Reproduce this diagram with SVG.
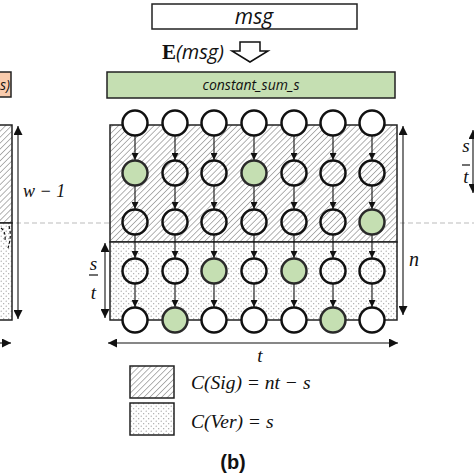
<svg xmlns="http://www.w3.org/2000/svg" width="474" height="474" viewBox="0 0 474 474">
<style>
.box{stroke:#222;stroke-width:1.5}
.c{fill:#fff;stroke:#111;stroke-width:2.5}
.g{fill:#c5dfb2;stroke:#2a2a2a;stroke-width:2.5}
.ln{stroke:#111;stroke-width:1.1;fill:none}
.math{font-family:"Liberation Serif",serif;font-style:italic;fill:#111}
.sans{font-family:"Open Sans","Liberation Sans",sans-serif;font-style:italic;fill:#111}
</style>
<defs>
<pattern id="hatch" width="4.2" height="4.2" patternUnits="userSpaceOnUse" patternTransform="rotate(45)">
<rect width="4.2" height="4.2" fill="#fff"/>
<line x1="0" y1="0" x2="0" y2="4.2" stroke="#808080" stroke-width="1.2"/>
</pattern>
<pattern id="dots" width="5" height="5" patternUnits="userSpaceOnUse">
<rect width="5" height="5" fill="#fff"/>
<circle cx="1.2" cy="1.2" r="0.6" fill="#999"/>
<circle cx="3.7" cy="3.7" r="0.6" fill="#999"/>
</pattern>
<marker id="ah" viewBox="0 0 10 10" refX="10" refY="5" markerWidth="7" markerHeight="7" orient="auto-start-reverse" markerUnits="userSpaceOnUse">
<path d="M0,0 L10,5 L0,10 z" fill="#111"/>
</marker>
<marker id="ah2" viewBox="0 0 10 10" refX="10" refY="5" markerWidth="9" markerHeight="9" orient="auto-start-reverse" markerUnits="userSpaceOnUse">
<path d="M0,0 L10,5 L0,10 z" fill="#111"/>
</marker>
</defs>
<rect width="474" height="474" fill="#fff"/>

<!-- dashed divider -->
<line x1="0" y1="223" x2="474" y2="223" stroke="#bbb" stroke-width="1.2" stroke-dasharray="5,3"/>

<!-- left partial panel -->
<g id="left-panel">
<rect x="-2" y="72" width="13" height="25" fill="#f8cbad" class="box"/>
<text x="10" y="90" class="sans" font-size="14" text-anchor="end">s)</text>
<rect x="-2" y="125" width="14" height="98" fill="url(#hatch)" class="box"/>
<rect x="-2" y="223" width="14" height="97" fill="url(#dots)" class="box"/>
<path d="M1,228 Q6,232 5,240 M9,226 Q12,236 8,248" stroke="#111" stroke-width="1.2" fill="none" stroke-dasharray="3,2"/>
<line x1="18" y1="126" x2="18" y2="319" class="ln" marker-start="url(#ah2)" marker-end="url(#ah2)"/>
<text x="23" y="197" class="math" font-size="18">w − 1</text>
<line x1="0" y1="343" x2="11" y2="343" class="ln" marker-end="url(#ah2)"/>
</g>

<!-- top message -->
<g id="msg">
<rect x="152" y="4" width="205" height="25" fill="#fff" class="box"/>
<text x="254" y="23.5" class="sans" font-size="21" text-anchor="middle">msg</text>
</g>
<g id="encode">
<text x="162" y="59" font-family="Liberation Serif,serif" font-weight="bold" font-size="21" fill="#111">E<tspan class="sans" font-weight="normal" font-size="20">(msg)</tspan></text>
<path d="M240,42 H260 V51 H268 L250,62 L232,51 H240 Z" fill="#fff" stroke="#111" stroke-width="1.5" stroke-linejoin="miter"/>
</g>
<g id="constant-sum">
<rect x="107" y="72" width="288" height="26" fill="#c5dfb2" class="box"/>
<text x="251" y="90" class="sans" font-size="14" text-anchor="middle">constant_sum_s</text>
</g>

<!-- grid -->
<g id="grid">
<rect x="110" y="125" width="287" height="117" fill="url(#hatch)" class="box"/>
<rect x="110" y="242" width="287" height="78" fill="url(#dots)" class="box"/>
</g>

<!-- connectors -->
<g id="connectors">
<g class="ln" marker-end="url(#ah)">
<line x1="135" y1="136" x2="135" y2="160"/><line x1="135" y1="186" x2="135" y2="209"/><line x1="135" y1="235" x2="135" y2="258"/><line x1="135" y1="284" x2="135" y2="307"/>
<line x1="175" y1="136" x2="175" y2="160"/><line x1="175" y1="186" x2="175" y2="209"/><line x1="175" y1="235" x2="175" y2="258"/><line x1="175" y1="284" x2="175" y2="307"/>
<line x1="214" y1="136" x2="214" y2="160"/><line x1="214" y1="186" x2="214" y2="209"/><line x1="214" y1="235" x2="214" y2="258"/><line x1="214" y1="284" x2="214" y2="307"/>
<line x1="254" y1="136" x2="254" y2="160"/><line x1="254" y1="186" x2="254" y2="209"/><line x1="254" y1="235" x2="254" y2="258"/><line x1="254" y1="284" x2="254" y2="307"/>
<line x1="294" y1="136" x2="294" y2="160"/><line x1="294" y1="186" x2="294" y2="209"/><line x1="294" y1="235" x2="294" y2="258"/><line x1="294" y1="284" x2="294" y2="307"/>
<line x1="333" y1="136" x2="333" y2="160"/><line x1="333" y1="186" x2="333" y2="209"/><line x1="333" y1="235" x2="333" y2="258"/><line x1="333" y1="284" x2="333" y2="307"/>
<line x1="372" y1="136" x2="372" y2="160"/><line x1="372" y1="186" x2="372" y2="209"/><line x1="372" y1="235" x2="372" y2="258"/><line x1="372" y1="284" x2="372" y2="307"/>
</g>
</g>

<!-- nodes -->
<g id="row1">
<circle cx="135" cy="123" r="12.5" class="c"/><circle cx="175" cy="123" r="12.5" class="c"/><circle cx="214" cy="123" r="12.5" class="c"/><circle cx="254" cy="123" r="12.5" class="c"/><circle cx="294" cy="123" r="12.5" class="c"/><circle cx="333" cy="123" r="12.5" class="c"/><circle cx="372" cy="123" r="12.5" class="c"/>
</g>
<g id="row2">
<circle cx="135" cy="173" r="12.5" class="g"/><circle cx="175" cy="173" r="12.5" class="c" fill-opacity="0"/><circle cx="214" cy="173" r="12.5" class="c" fill-opacity="0"/><circle cx="254" cy="173" r="12.5" class="g"/><circle cx="294" cy="173" r="12.5" class="c" fill-opacity="0"/><circle cx="333" cy="173" r="12.5" class="c" fill-opacity="0"/><circle cx="372" cy="173" r="12.5" class="c" fill-opacity="0"/>
</g>
<g id="row3">
<circle cx="135" cy="222" r="12.5" class="c" fill-opacity="0"/><circle cx="175" cy="222" r="12.5" class="c" fill-opacity="0"/><circle cx="214" cy="222" r="12.5" class="c" fill-opacity="0"/><circle cx="254" cy="222" r="12.5" class="c" fill-opacity="0"/><circle cx="294" cy="222" r="12.5" class="c" fill-opacity="0"/><circle cx="333" cy="222" r="12.5" class="c" fill-opacity="0"/><circle cx="372" cy="222" r="12.5" class="g"/>
</g>
<g id="row4">
<circle cx="135" cy="271" r="12.5" class="c" fill-opacity="0"/><circle cx="175" cy="271" r="12.5" class="c" fill-opacity="0"/><circle cx="214" cy="271" r="12.5" class="g"/><circle cx="254" cy="271" r="12.5" class="c" fill-opacity="0"/><circle cx="294" cy="271" r="12.5" class="g"/><circle cx="333" cy="271" r="12.5" class="c" fill-opacity="0"/><circle cx="372" cy="271" r="12.5" class="c" fill-opacity="0"/>
</g>
<g id="row5">
<circle cx="135" cy="320" r="12.5" class="c"/><circle cx="175" cy="320" r="12.5" class="g"/><circle cx="214" cy="320" r="12.5" class="c"/><circle cx="254" cy="320" r="12.5" class="c"/><circle cx="294" cy="320" r="12.5" class="c"/><circle cx="333" cy="320" r="12.5" class="g"/><circle cx="372" cy="320" r="12.5" class="c"/>
</g>

<!-- dimensions -->
<g id="dim-n">
<line x1="403" y1="126" x2="403" y2="315" class="ln" marker-start="url(#ah2)" marker-end="url(#ah2)"/>
<text x="409" y="266" class="math" font-size="20">n</text>
</g>
<g id="dim-st-left">
<line x1="105" y1="243" x2="105" y2="318" class="ln" marker-start="url(#ah2)" marker-end="url(#ah2)"/>
<text x="93.5" y="270" class="math" font-size="19" text-anchor="middle">s</text>
<line x1="89" y1="275" x2="98" y2="275" stroke="#111" stroke-width="1.2"/>
<text x="93.5" y="299" class="math" font-size="19" text-anchor="middle">t</text>
</g>
<g id="dim-st-right">
<line x1="473" y1="130" x2="473" y2="193" class="ln" marker-start="url(#ah2)" marker-end="url(#ah2)"/>
<text x="466" y="152" class="math" font-size="19" text-anchor="middle">s</text>
<line x1="462" y1="165" x2="470" y2="165" stroke="#111" stroke-width="1.2"/>
<text x="466" y="183" class="math" font-size="19" text-anchor="middle">t</text>
</g>
<g id="dim-t">
<line x1="108" y1="343" x2="398" y2="343" class="ln" marker-start="url(#ah2)" marker-end="url(#ah2)"/>
<text x="260" y="362" class="math" font-size="19" text-anchor="middle">t</text>
</g>

<!-- legend -->
<g id="legend-sig">
<rect x="130" y="366" width="44" height="32" fill="url(#hatch)" class="box"/>
<text x="191" y="389" class="math" font-size="19.5">C(Sig) = nt − s</text>
</g>
<g id="legend-ver">
<rect x="130" y="403" width="44" height="32" fill="url(#dots)" class="box"/>
<text x="191" y="428" class="math" font-size="19.5">C(Ver) = s</text>
</g>
<text x="233" y="469" font-family="Liberation Sans,Arial,sans-serif" font-weight="bold" font-size="20" fill="#111" text-anchor="middle">(b)</text>
</svg>
